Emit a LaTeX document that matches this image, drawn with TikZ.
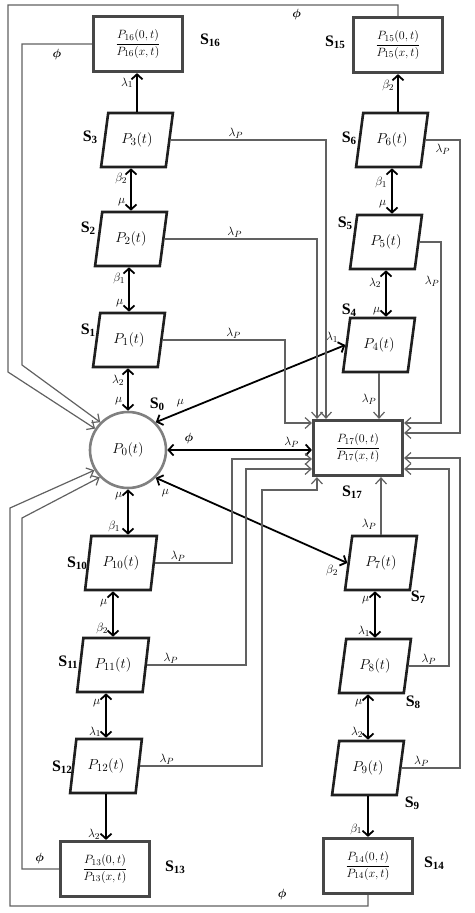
\documentclass[tikz,border=0pt]{standalone}
\usepackage{amsmath}
\usepackage{fontspec}
\setmainfont{Liberation Serif}
\usetikzlibrary{shapes.geometric,arrows.meta}

\newcommand\stname[1]{\textbf{S\raisebox{-0.3ex}{\fontsize{11}{12}\selectfont #1}}}

\begin{document}
\begin{tikzpicture}[x=1pt,y=-1pt,
  pnode/.style={trapezium,trapezium left angle=75,trapezium right angle=105,
    trapezium stretches=true,draw=black!88,line width=2.6pt,
    minimum width=72pt,minimum height=54pt,inner sep=0pt,
    font=\fontsize{15}{17}\selectfont},
  endbox/.style={rectangle,draw=black!72,line width=3.2pt,
    minimum width=89pt,minimum height=55pt,inner sep=0pt,
    font=\fontsize{12.5}{14}\selectfont},
  cnode/.style={circle,draw=black!50,line width=2.6pt,minimum size=76pt,
    inner sep=0pt,font=\fontsize{15}{17}\selectfont},
  sname/.style={font=\fontsize{16}{18}\selectfont,inner sep=0pt},
  lab/.style={font=\fontsize{12.5}{14}\selectfont,inner sep=1pt},
  darr/.style={line width=1.8pt,
    {Straight Barb[length=5pt,width=11pt]}-{Straight Barb[length=5pt,width=11pt]}},
  sarr/.style={line width=1.8pt,-{Straight Barb[length=5pt,width=11pt]}},
  gline/.style={draw=black!62,line width=1.2pt,-{Straight Barb[length=6pt,width=11pt]}}]
\useasboundingbox (0,0) rectangle (474,913);

% states
\node[endbox] (s16) at (138,44) {$\dfrac{P_{16}(0,t)}{P_{16}(x,t)}$};
\node[pnode] (P3) at (137,140) {$P_3(t)$};
\node[pnode] (P2) at (131,239) {$P_2(t)$};
\node[pnode] (P1) at (129,340) {$P_1(t)$};
\node[cnode] (P0) at (128,450) {$P_0(t)$};
\node[pnode] (P10) at (121,563) {$P_{10}(t)$};
\node[pnode] (P11) at (113,665) {$P_{11}(t)$};
\node[pnode] (P12) at (106,766) {$P_{12}(t)$};
\node[endbox] (s13) at (105,869) {$\dfrac{P_{13}(0,t)}{P_{13}(x,t)}$};
\node[endbox] (s15) at (398,45) {$\dfrac{P_{15}(0,t)}{P_{15}(x,t)}$};
\node[pnode] (P6) at (392,140) {$P_6(t)$};
\node[pnode] (P5) at (386,242) {$P_5(t)$};
\node[pnode] (P4) at (379,345) {$P_4(t)$};
\node[endbox] (s17) at (358,448) {$\dfrac{P_{17}(0,t)}{P_{17}(x,t)}$};
\node[pnode] (P7) at (381,563) {$P_7(t)$};
\node[pnode] (P8) at (375,666) {$P_8(t)$};
\node[pnode] (P9) at (368,768) {$P_9(t)$};
\node[endbox] (s14) at (368,866) {$\dfrac{P_{14}(0,t)}{P_{14}(x,t)}$};

% state names
\node[sname] (n16) at (210,40) {\stname{16}};
\node[sname] (n15) at (335,42) {\stname{15}};
\node[sname] (n3) at (90,137) {\stname{3}};
\node[sname] (n2) at (88,228) {\stname{2}};
\node[sname] (n1) at (88,330) {\stname{1}};
\node[sname] (n0) at (157,404) {\stname{0}};
\node[sname] (n6) at (349,138) {\stname{6}};
\node[sname] (n5) at (345,223) {\stname{5}};
\node[sname] (n4) at (349,310) {\stname{4}};
\node[sname] (n17) at (352,492) {\stname{17}};
\node[sname] (n7) at (418,597) {\stname{7}};
\node[sname] (n8) at (413,702) {\stname{8}};
\node[sname] (n9) at (412,803) {\stname{9}};
\node[sname] (n14) at (434,863) {\stname{14}};
\node[sname] (n13) at (175,867) {\stname{13}};
\node[sname] (n12) at (62,767) {\stname{12}};
\node[sname] (n11) at (68,662) {\stname{11}};
\node[sname] (n10) at (77,563) {\stname{10}};

% transitions
\draw[sarr] (P3.north) -- (P3.north |- s16.south) node[lab,pos=0.75,left=2pt] {$\lambda_1$};
\draw[darr] (P2.north) -- (P2.north |- P3.south) node[lab,pos=0.2,left=4pt] {$\mu$} node[lab,pos=0.75,left=2pt] {$\beta_2$};
\draw[darr] (P1.north) -- (P1.north |- P2.south) node[lab,pos=0.2,left=4pt] {$\mu$} node[lab,pos=0.74,left=2pt] {$\beta_1$};
\draw[darr] (P0.north) -- (P0.north |- P1.south) node[lab,pos=0.22,left=4pt] {$\mu$} node[lab,pos=0.71,left=2pt] {$\lambda_2$};
\draw[darr] (P0.south) -- (P0.south |- P10.north) node[lab,pos=0.15,left=4pt] {$\mu$} node[lab,pos=0.83,left=6pt] {$\beta_1$};
\draw[darr] (P11.north) -- (P11.north |- P10.south) node[lab,pos=0.17,left=3pt] {$\beta_2$} node[lab,pos=0.75,left=4pt] {$\mu$};
\draw[darr] (P12.north) -- (P12.north |- P11.south) node[lab,pos=0.13,left=3pt] {$\lambda_1$} node[lab,pos=0.79,left=4pt] {$\mu$};
\draw[sarr] (P12.south) -- (P12.south |- s13.north) node[lab,pos=0.87,left=4pt] {$\lambda_2$};
\draw[sarr] (s15.south |- P6.north) -- (s15.south) node[lab,pos=0.7,left=2pt] {$\beta_2$};
\draw[darr] (P6.south) -- (P6.south |- P5.north) node[lab,pos=0.31,left=3pt] {$\beta_1$} node[lab,pos=0.79,left=4pt] {$\mu$};
\draw[darr] (P5.south) -- (P5.south |- P4.north) node[lab,pos=0.27,left=3pt] {$\lambda_2$} node[lab,pos=0.88,left=4pt] {$\mu$};
\draw[darr] (P8.north) -- (P8.north |- P7.south) node[lab,pos=0.14,left=3pt] {$\lambda_1$} node[lab,pos=0.82,left=4pt] {$\mu$};
\draw[darr] (P9.north) -- (P9.north |- P8.south) node[lab,pos=0.17,left=3pt] {$\lambda_2$} node[lab,pos=0.8,left=4pt] {$\mu$};
\draw[sarr] (P9.south) -- (P9.south |- s14.north) node[lab,pos=0.81,left=4pt] {$\beta_1$};
\draw[darr] (P0.45) -- (P4.west) node[lab,pos=0.13,above=3pt] {$\mu$} node[lab,pos=0.93,above=6pt] {$\lambda_1$};
\draw[darr] (P0.-45) -- (P7.west) node[lab,pos=0.05,below=5pt] {$\mu$} node[lab,pos=0.92,below=7pt] {$\beta_2$};
\draw[darr] (P0.east) -- (P0.east -| s17.west) node[lab,pos=0.15,above=4pt] {$\boldsymbol{\phi}$} node[lab,pos=0.86,above=1pt] {$\lambda_P$};

% failures to S17
\coordinate (k3) at (326,421);
\coordinate (k2) at (317,421);
\coordinate (k1) at (285,423);
\coordinate (k10) at (232,459);
\coordinate (k11) at (246,469);
\coordinate (k12) at (262,490);
\coordinate (k5) at (441,423);
\coordinate (k6) at (460,433);
\coordinate (k8) at (449,469);
\coordinate (k9) at (460,458);
\draw[gline] (P3.east) -| (k3 |- s17.north) node[lab,pos=0.21,above] {$\lambda_P$};
\draw[gline] (P2.east) -| (k2 |- s17.north) node[lab,pos=0.23,above] {$\lambda_P$};
\draw[gline] (P1.east) -| (k1) node[lab,pos=0.29,above] {$\lambda_P$} -- (k1 -| s17.west);
\draw[gline] (P4.south) -- (P4.south |- s17.north) node[lab,pos=0.57,left=1pt] {$\lambda_P$};
\draw[gline] (P5.east) -| (k5) node[lab,pos=0.61,left] {$\lambda_P$} -- (k5 -| s17.east);
\draw[gline] (P6.east) -| (k6) node[lab,pos=0.25,below=3pt] {$\lambda_P$} -- (k6 -| s17.east);
\draw[gline] (P10.east) -| (k10) node[lab,pos=0.15,above] {$\lambda_P$} -- (k10 -| s17.west);
\draw[gline] (P11.east) -| (k11) node[lab,pos=0.12,above] {$\lambda_P$} -- (k11 -| s17.west);
\draw[gline] (P12.east) -| (k12) node[lab,pos=0.11,above] {$\lambda_P$} -| ([xshift=5pt]s17.south west);
\draw[gline] (P7.north) -- (P7.north |- s17.south) node[lab,pos=0.18,left=3pt] {$\lambda_P$};
\draw[gline] (P8.east) -| (k8) node[lab,pos=0.25,above] {$\lambda_P$} -- (k8 -| s17.east);
\draw[gline] (P9.east) -| (k9) node[lab,pos=0.17,above] {$\lambda_P$} -- (k9 -| s17.east);

% repairs back to P0
\coordinate (q16) at (22,365);
\coordinate (q15a) at (8,5);
\coordinate (q15b) at (8,372);
\coordinate (q13) at (22,518);
\coordinate (q14a) at (10,906);
\coordinate (q14b) at (10,508);
\draw[gline] (s16.west) -| (q16) node[lab,pos=0.25,below=4pt] {$\boldsymbol{\phi}$} -- (P0.135);
\draw[gline] (s15.north) |- (q15a) node[lab,pos=0.63,below=3pt] {$\boldsymbol{\phi}$} -- (q15b) -- (P0.147);
\draw[gline] (s13.west) -| (q13) node[lab,pos=0.26,above=4pt] {$\boldsymbol{\phi}$} -- (P0.224);
\draw[gline] (s14.south) |- (q14a) node[lab,pos=0.62,above=5pt] {$\boldsymbol{\phi}$} -- (q14b) -- (P0.211);
\end{tikzpicture}
\end{document}
